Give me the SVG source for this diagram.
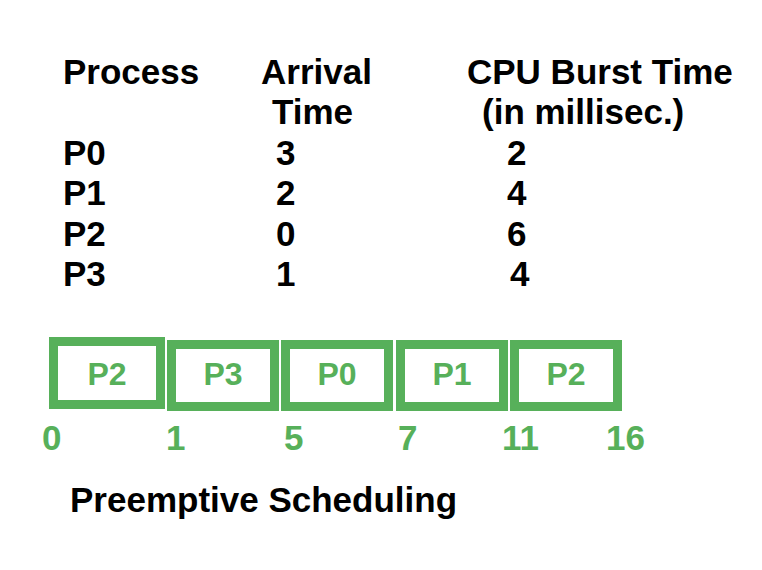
<svg xmlns="http://www.w3.org/2000/svg" width="762" height="570" viewBox="0 0 762 570">
<style>
text{font-family:"Liberation Sans",Arial,sans-serif;font-weight:bold;font-size:35px}
.k{fill:#000}
.g{fill:#57B05A;font-size:32px}
.b{fill:none;stroke:#57B05A;stroke-width:9}
.c{text-anchor:middle}
</style>
<rect width="762" height="570" fill="#fff"/>
<g id="table" class="k">
<text x="63" y="84">Process</text>
<text x="261" y="84">Arrival</text>
<text x="272" y="124">Time</text>
<text x="467" y="84">CPU Burst Time</text>
<text x="482" y="124">(in millisec.)</text>
<text x="63" y="165">P0</text><text x="276" y="165">3</text><text x="507" y="165">2</text>
<text x="63" y="205">P1</text><text x="276" y="205">2</text><text x="507" y="205">4</text>
<text x="63" y="246">P2</text><text x="276" y="246">0</text><text x="507" y="246">6</text>
<text x="63" y="286">P3</text><text x="276" y="286">1</text><text x="510" y="286">4</text>
</g>
<g id="gantt">
<g id="b1"><rect class="b" x="53.5" y="341.5" width="107" height="63"/><text class="g c" x="107" y="385">P2</text></g>
<g id="b2"><rect class="b" x="171.5" y="344.5" width="103" height="62"/><text class="g c" x="223" y="385">P3</text></g>
<g id="b3"><rect class="b" x="285.5" y="344.5" width="103" height="62"/><text class="g c" x="337" y="385">P0</text></g>
<g id="b4"><rect class="b" x="400.5" y="344.5" width="103" height="62"/><text class="g c" x="452" y="385">P1</text></g>
<g id="b5"><rect class="b" x="514.5" y="344.5" width="103" height="62"/><text class="g c" x="566" y="385">P2</text></g>
</g>
<g id="ticks" class="g">
<text x="42" y="450">0</text>
<text x="166" y="450">1</text>
<text x="284" y="450">5</text>
<text x="398" y="450">7</text>
<text x="502" y="450">11</text>
<text x="606" y="450">16</text>
</g>
<text class="k" x="70" y="512">Preemptive Scheduling</text>
</svg>
